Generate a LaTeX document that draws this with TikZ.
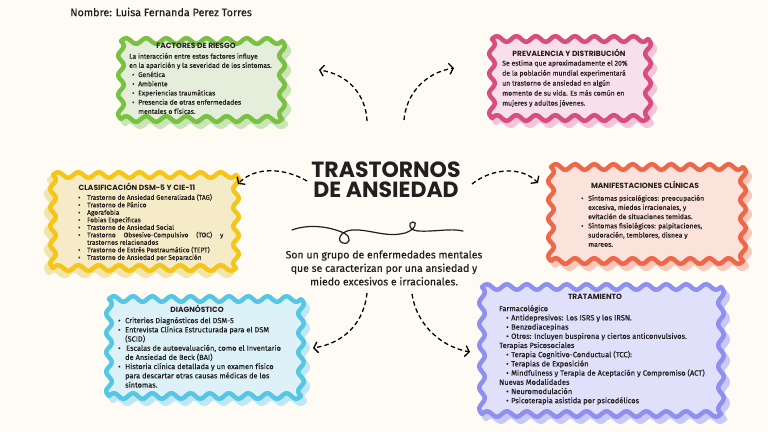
\documentclass[tikz,border=0pt]{standalone}
\usepackage{fontspec}
\setmainfont{Fira Sans}
\newfontfamily\headfont{Poppins}
\newfontfamily\bodyfont{Fira Sans}[FakeBold=0.35]
\usetikzlibrary{arrows.meta}
\definecolor{bg}{HTML}{FDFBF3}
\definecolor{ink}{HTML}{231F20}
\definecolor{gB}{HTML}{7AC143}\definecolor{gF}{HTML}{E4EEDA}\definecolor{gS}{HTML}{C9E4B5}
\definecolor{pB}{HTML}{D84D80}\definecolor{pF}{HTML}{F8E0EA}\definecolor{pS}{HTML}{F2C6D7}
\definecolor{yB}{HTML}{F5C518}\definecolor{yF}{HTML}{F6EBC7}\definecolor{yS}{HTML}{F2E4AE}
\definecolor{cB}{HTML}{EF6649}\definecolor{cF}{HTML}{FBE3DB}\definecolor{cS}{HTML}{F7CABC}
\definecolor{bB}{HTML}{55C6E4}\definecolor{bF}{HTML}{DDF2F8}\definecolor{bS}{HTML}{BFE8F4}
\definecolor{vB}{HTML}{8F8FF0}\definecolor{vF}{HTML}{E0E0FA}\definecolor{vS}{HTML}{C9C9F7}
\newcommand{\bitem}[1]{\makebox[#1][l]{\textbullet}}
% wavy box: #1 options, #2 x1, #3 y1, #4 x2, #5 y2
\newcommand{\wbox}[5]{%
  \pgfmathsetmacro{\wbfx}{360*round((#4-#2)/20)/(#4-#2)}%
  \pgfmathsetmacro{\wbfy}{360*round((#5-#3)/20)/(#5-#3)}%
  \draw[#1] plot[domain=#2:#4,samples=100,variable=\t] (\t,{#3-2.8*sin((\t-#2)*\wbfx)})
   -- plot[domain=#3:#5,samples=60,variable=\t] ({#4+2.8*sin((\t-#3)*\wbfy)},\t)
   -- plot[domain=#4:#2,samples=100,variable=\t] (\t,{#5+2.8*sin((#4-\t)*\wbfx)})
   -- plot[domain=#5:#3,samples=60,variable=\t] ({#2-2.8*sin((#5-\t)*\wbfy)},\t) -- cycle;}
\tikzset{
  wavy/.style={line width=4.5pt,line join=round},
  conn/.style={line width=1.3pt,dash pattern=on 4.5pt off 3pt,-{Straight Barb[length=4pt,width=11pt,line width=1.3pt]}},
  boxhead/.style={font=\headfont\bfseries\fontsize{7.5}{9}\selectfont,text=ink,inner sep=0pt},
  boxbody/.style={anchor=north west,align=left,text=ink,inner sep=0pt},
}
\begin{document}
\begin{tikzpicture}[x=1pt,y=-1pt]
\useasboundingbox (0,0) rectangle (768,431);
\fill[bg] (0,0) rectangle (768,431);

% name
\node[anchor=west,font=\bodyfont\fontsize{10.8}{12}\selectfont,text=ink,inner sep=0pt] (name) at (70,12) {Nombre: Luisa Fernanda Perez Torres};

% ---------- boxes ----------
% Factores de riesgo
\wbox{wavy,draw=gS,fill=gS,shift={(4,5)}}{121}{41}{282}{119}
\wbox{wavy,draw=gB,fill=gF}{121}{41}{282}{119}
\node[boxhead] (h1) at (196,46) {FACTORES DE RIESGO};
\node[boxbody,font=\bodyfont\fontsize{6.8}{9.2}\selectfont] (t1) at (129,53) {La interacción entre estos factores influye\\
en la aparición y la severidad de los síntomas.\\
\hspace*{3pt}\bitem{6pt}Genética\\
\hspace*{3pt}\bitem{6pt}Ambiente\\
\hspace*{3pt}\bitem{6pt}Experiencias traumáticas\\
\hspace*{3pt}\bitem{6pt}Presencia de otras enfermedades\\
\hspace*{9pt}mentales o físicas.};

% Prevalencia
\wbox{wavy,draw=pS,fill=pS,shift={(4,5)}}{492}{39}{648}{118}
\wbox{wavy,draw=pB,fill=pF}{492}{39}{648}{118}
\node[boxhead] (h2) at (569,53) {PREVALENCIA Y DISTRIBUCIÓN};
\node[boxbody,font=\bodyfont\fontsize{6.9}{10}\selectfont] (t2) at (502,60) {Se estima que aproximadamente el 20\%\\
de la población mundial experimentará\\
un trastorno de ansiedad en algún\\
momento de su vida. Es más común en\\
mujeres y adultos jóvenes.};

% Clasificacion
\wbox{wavy,draw=yS,fill=yS,shift={(-4,5)}}{53}{175}{236}{268}
\wbox{wavy,draw=yB,fill=yF}{53}{175}{236}{268}
\node[boxhead] (h3) at (137,187) {CLASIFICACIÓN DSM-5 Y CIE-11};
\node[boxbody,font=\bodyfont\fontsize{6.6}{7.5}\selectfont] (t3) at (78,194) {\bitem{9pt}Trastorno de Ansiedad Generalizada (TAG)\\
\bitem{9pt}Trastorno de Pánico\\
\bitem{9pt}Agorafobia\\
\bitem{9pt}Fobias Específicas\\
\bitem{9pt}Trastorno de Ansiedad Social\\
\bitem{9pt}Trastorno\hspace{8pt}Obsesivo-Compulsivo\hspace{8pt}(TOC)\hspace{8pt}y\\
\hspace*{9pt}trastornos relacionados\\
\bitem{9pt}Trastorno de Estrés Postraumático (TEPT)\\
\bitem{9pt}Trastorno de Ansiedad por Separación};

% Manifestaciones
\wbox{wavy,draw=cS,fill=cS,shift={(4,5)}}{551}{167}{743}{261}
\wbox{wavy,draw=cB,fill=cF}{551}{167}{743}{261}
\node[boxhead] (h4) at (645,185) {MANIFESTACIONES CLÍNICAS};
\node[boxbody,font=\bodyfont\fontsize{6.9}{9.2}\selectfont] (t4) at (581,195) {\bitem{7pt}Síntomas psicológicos: preocupación\\
\hspace*{7pt}excesiva, miedos irracionales, y\\
\hspace*{7pt}evitación de situaciones temidas.\\
\bitem{7pt}Síntomas fisiológicos: palpitaciones,\\
\hspace*{7pt}sudoración, temblores, disnea y\\
\hspace*{7pt}mareos.};

% Diagnostico
\wbox{wavy,draw=bS,fill=bS,shift={(4,5)}}{109}{299}{301}{396}
\wbox{wavy,draw=bB,fill=bF}{109}{299}{301}{396}
\node[boxhead] (h5) at (197,309) {DIAGNÓSTICO};
\node[boxbody,font=\bodyfont\fontsize{7.4}{9.2}\selectfont] (t5) at (118,317) {\bitem{7pt}Criterios Diagnósticos del DSM-5\\
\bitem{7pt}Entrevista Clínica Estructurada para el DSM\\
\hspace*{7pt}(SCID)\\
\bitem{8pt}Escalas de autoevaluación, como el Inventario\\
\hspace*{7pt}de Ansiedad de Beck (BAI)\\
\bitem{7pt}Historia clínica detallada y un examen físico\\
\hspace*{7pt}para descartar otras causas médicas de los\\
\hspace*{7pt}síntomas.};

% Tratamiento
\wbox{wavy,draw=vS,fill=vS,shift={(4,5)}}{482}{287}{721}{414}
\wbox{wavy,draw=vB,fill=vF}{482}{287}{721}{414}
\node[boxhead] (h6) at (595,297) {TRATAMIENTO};
\node[boxbody,font=\bodyfont\fontsize{7.5}{9.2}\selectfont] (t6) at (499,305) {Farmacológico\\
\hspace*{7pt}\bitem{5pt}Antidepresivos: Los ISRS y los IRSN.\\
\hspace*{7pt}\bitem{5pt}Benzodiacepinas\\
\hspace*{7pt}\bitem{5pt}Otros: Incluyen buspirona y ciertos anticonvulsivos.\\
Terapias Psicosociales\\
\hspace*{7pt}\bitem{5pt}Terapia Cognitivo-Conductual (TCC):\\
\hspace*{7pt}\bitem{5pt}Terapias de Exposición\\
\hspace*{7pt}\bitem{5pt}Mindfulness y Terapia de Aceptación y Compromiso (ACT)\\
Nuevas Modalidades\\
\hspace*{7pt}\bitem{5pt}Neuromodulación\\
\hspace*{7pt}\bitem{5pt}Psicoterapia asistida por psicodélicos};

% ---------- center ----------
\node[font=\headfont\bfseries\fontsize{22}{20}\selectfont,align=center,text=ink,inner sep=0pt] (title) at (386,180) {TRASTORNOS\\DE ANSIEDAD};
\draw[ink,line width=1.2pt,line cap=round]
  (292,230) .. controls (308,224) and (328,226) .. (344,233)
  .. controls (352,237) and (350,245) .. (343,243)
  .. controls (336,241) and (340,231) .. (352,230)
  .. controls (370,229) and (386,238) .. (405,233)
  .. controls (415,230) and (418,222) .. (413,222)
  .. controls (408,222) and (408,230) .. (418,231)
  .. controls (435,232) and (450,228) .. (463,231);
\node[font=\bodyfont\fontsize{10.5}{13.5}\selectfont,align=center,text=ink,inner sep=0pt] (desc) at (384,268) {Son un grupo de enfermedades mentales\\
que se caracterizan por una ansiedad y\\
miedo excesivos e irracionales.};

% ---------- connectors ----------
\coordinate (ulS) at (367,121); \coordinate (ulE) at (319,70);
\coordinate (urS) at (404,120); \coordinate (urE) at (454,68);
\coordinate (lS) at (307,181);  \coordinate (lE) at (238,184);
\coordinate (rS) at (472,184);  \coordinate (rE) at (538,183);
\coordinate (llS) at (367,293); \coordinate (llE) at (313,348);
\coordinate (lrS) at (412,294); \coordinate (lrE) at (470,352);
\draw[conn] (ulS) .. controls (366,95) and (348,74) .. (ulE);
\draw[conn] (urS) .. controls (406,95) and (424,73) .. (urE);
\draw[conn] (lS) .. controls (285,168) and (255,166) .. (lE);
\draw[conn] (rS) .. controls (492,168) and (522,166) .. (rE);
\draw[conn] (llS) .. controls (364,322) and (345,343) .. (llE);
\draw[conn] (lrS) .. controls (416,322) and (438,346) .. (lrE);
\end{tikzpicture}
\end{document}
